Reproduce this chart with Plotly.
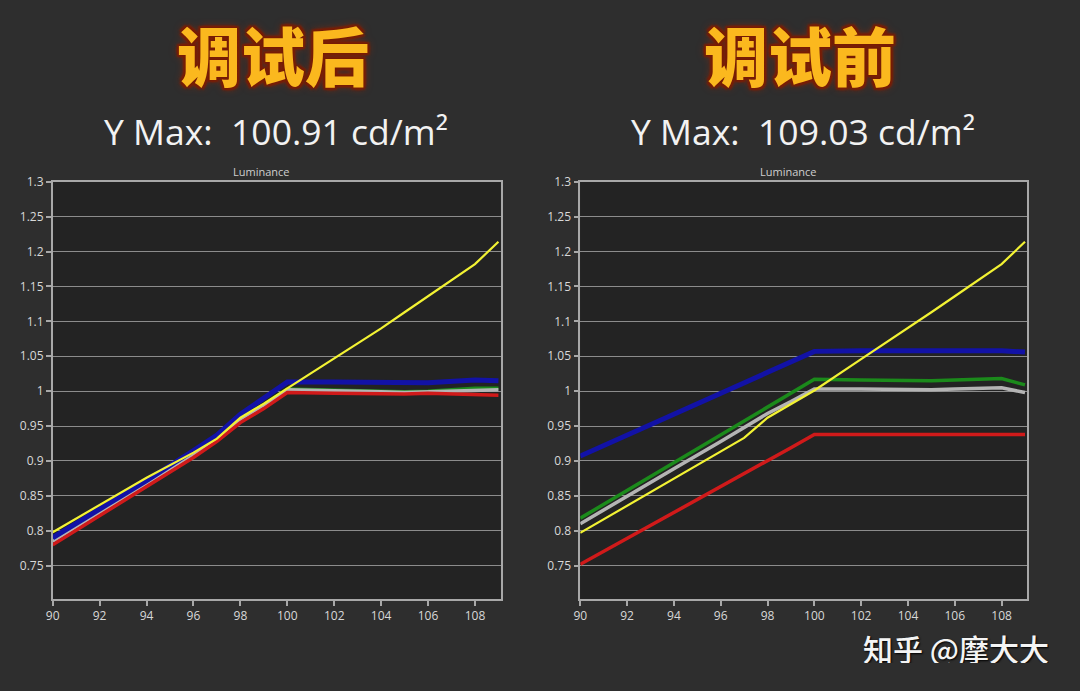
import plotly.graph_objects as go

# ---------------- data ----------------
x_vals = [90, 92, 94, 96, 97, 98, 99, 100, 102, 104, 105, 106, 108, 109]

after_yellow = [0.798, 0.837, 0.876, 0.912, 0.932, 0.962, 0.982, 1.004, 1.047, 1.090, 1.113, 1.136, 1.182, 1.214]
after_blue   = [0.790, 0.830, 0.872, 0.915, 0.937, 0.967, 0.990, 1.013, 1.013, 1.012, 1.011, 1.012, 1.016, 1.015]
after_green  = [0.786, 0.827, 0.869, 0.911, 0.933, 0.961, 0.981, 1.003, 1.002, 1.000, 0.999, 1.000, 1.004, 1.004]
after_gray   = [0.785, 0.826, 0.868, 0.910, 0.932, 0.960, 0.980, 1.002, 1.001, 0.999, 0.998, 0.999, 1.002, 1.002]
after_red    = [0.780, 0.822, 0.864, 0.905, 0.928, 0.955, 0.975, 0.998, 0.997, 0.996, 0.996, 0.997, 0.995, 0.994]

before_yellow = [0.797, 0.836, 0.875, 0.913, 0.933, 0.962, 0.981, 1.001, 1.046, 1.090, 1.113, 1.136, 1.182, 1.214]
before_blue   = [0.907, 0.937, 0.967, 0.997, 1.012, 1.027, 1.042, 1.057, 1.058, 1.058, 1.058, 1.058, 1.058, 1.056]
before_green  = [0.818, 0.858, 0.898, 0.938, 0.958, 0.978, 0.998, 1.017, 1.016, 1.015, 1.015, 1.016, 1.018, 1.009]
before_gray   = [0.810, 0.850, 0.889, 0.928, 0.948, 0.968, 0.985, 1.003, 1.003, 1.002, 1.002, 1.003, 1.005, 0.998]
before_red    = [0.752, 0.789, 0.826, 0.863, 0.881, 0.900, 0.919, 0.938, 0.938, 0.938, 0.938, 0.938, 0.938, 0.938]

x_ticks = [90, 92, 94, 96, 98, 100, 102, 104, 106, 108]
y_ticks = [0.75, 0.8, 0.85, 0.9, 0.95, 1.0, 1.05, 1.1, 1.15, 1.2, 1.25, 1.3]
y_tick_text = ["0.75", "0.8", "0.85", "0.9", "0.95", "1", "1.05", "1.1", "1.15", "1.2", "1.25", "1.3"]

panel_titles = ["调试后", "调试前"]
ymax_texts = ["Y Max:  100.91 cd/m²", "Y Max:  109.03 cd/m²"]
chart_title = "Luminance"
watermark = "知乎 @摩大大"

# ---------------- style ----------------
W, H = 1080, 691
DY = 8  # vertical correction for the page offset
PAPER = "#2e2e2e"
PLOT = "#232323"
GRID = "#8c8c8c"
AXIS = "#a8a8a8"
TICKFONT = dict(family="Open Sans, Noto Sans, sans-serif", size=12, color="#d8d8d8")

series_style = [
    ("green", "#1b8a1b", 3.5),
    ("gray", "#b4b4b4", 3.5),
    ("red", "#d01a1a", 3.5),
    ("blue", "#1212a6", 5),
    ("yellow", "#f2f233", 2.2),
]

after = {"yellow": after_yellow, "blue": after_blue, "green": after_green,
         "gray": after_gray, "red": after_red}
before = {"yellow": before_yellow, "blue": before_blue, "green": before_green,
          "gray": before_gray, "red": before_red}

fig = go.Figure()

for idx, data in enumerate([after, before]):
    xa = "x" if idx == 0 else "x2"
    ya = "y" if idx == 0 else "y2"
    for name, color, width in series_style:
        fig.add_trace(go.Scatter(
            x=x_vals, y=data[name], mode="lines", name=name,
            line=dict(color=color, width=width),
            xaxis=xa, yaxis=ya, showlegend=False, hoverinfo="skip",
        ))

def py(pix):
    return 1 - (pix - DY) / H

def px(pix):
    return pix / W

domains = [[px(46), px(497)], [px(577), px(1027)]]
ydom = [py(606), py(183)]

axis_common_x = dict(
    range=[90, 109.1], tickvals=x_ticks, showgrid=False, zeroline=False,
    showline=True, linecolor=AXIS, linewidth=1.5, mirror=True,
    ticks="outside", ticklen=5, tickcolor=AXIS, tickwidth=1.5,
    tickfont=TICKFONT, fixedrange=True,
)
axis_common_y = dict(
    range=[0.702, 1.3], tickvals=y_ticks, ticktext=y_tick_text,
    showgrid=True, gridcolor=GRID, gridwidth=1.2, zeroline=False,
    showline=True, linecolor=AXIS, linewidth=1.5, mirror=True,
    ticks="outside", ticklen=5, tickcolor=AXIS, tickwidth=1.5,
    tickfont=TICKFONT, fixedrange=True,
)

fig.update_layout(
    width=W, height=H, autosize=False,
    margin=dict(l=0, r=0, t=0, b=0),
    paper_bgcolor=PAPER, plot_bgcolor=PLOT,
    xaxis=dict(domain=domains[0], anchor="y", **axis_common_x),
    yaxis=dict(domain=ydom, anchor="x", **axis_common_y),
    xaxis2=dict(domain=domains[1], anchor="y2", **axis_common_x),
    yaxis2=dict(domain=ydom, anchor="x2", **axis_common_y),
)

title_centers = [268, 798]
ymax_centers = [271, 801]
lum_centers = [256, 787]

for i in range(2):
    fig.add_annotation(
        x=px(title_centers[i]), y=py(53), xref="paper", yref="paper",
        text=panel_titles[i], showarrow=False, xanchor="center", yanchor="middle",
        font=dict(family="Noto Sans CJK SC", size=64, color="#fbb81e", weight=900,
                  shadow="0px 0px 2px #6e1a06, 2px 2px 2px #7a1e06, -2px -2px 2px #7a1e06, 2px -2px 2px #7a1e06, -2px 2px 2px #7a1e06, 0px 0px 8px #a02a08"),
    )
    fig.add_annotation(
        x=px(ymax_centers[i]), y=py(132), xref="paper", yref="paper",
        text=ymax_texts[i], showarrow=False, xanchor="center", yanchor="middle",
        font=dict(family="Open Sans, Noto Sans, sans-serif", size=35.5, color="#f2f2f2"),
    )
    fig.add_annotation(
        x=px(lum_centers[i]), y=py(173), xref="paper", yref="paper",
        text=chart_title, showarrow=False, xanchor="center", yanchor="middle",
        font=dict(family="Open Sans, Noto Sans, sans-serif", size=11, color="#cfcfcf"),
    )

fig.add_annotation(
    x=px(1050), y=py(655), xref="paper", yref="paper",
    text=watermark, showarrow=False, xanchor="right", yanchor="middle",
    height=30, valign="middle", borderpad=0,
    font=dict(family="Noto Sans CJK SC", size=30, color="#f4f4f4", weight=500,
              shadow="1px 1px 2px #000000"),
)

post = ("document.documentElement.style.margin='0';"
        "document.body.style.margin='0';document.body.style.padding='0';"
        "document.body.style.background='#2e2e2e';")

fig.write_html("out.html", config={"displayModeBar": False, "responsive": False},
               post_script=post)
